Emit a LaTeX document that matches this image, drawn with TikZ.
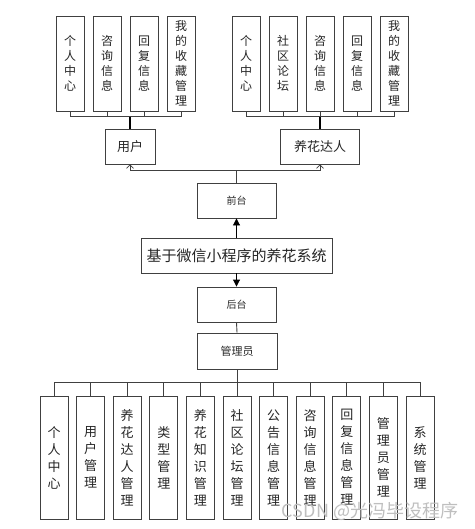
\documentclass[tikz,border=0pt]{standalone}
\usepackage{fontspec}
\setmainfont{Noto Sans CJK SC}
\usetikzlibrary{arrows.meta,calc}
\definecolor{boxc}{HTML}{404040}
\definecolor{txtc}{HTML}{262626}
\begin{document}
\begin{tikzpicture}[x=1pt,y=-1pt,
  box/.style={draw=boxc, line width=0.9pt, inner sep=0pt, align=center, text=txtc},
  vtop/.style={box, minimum width=28pt, minimum height=95pt, font=\fontsize{12}{15}\selectfont},
  vbot/.style={box, minimum width=28pt, minimum height=123pt, font=\fontsize{13}{17}\selectfont},
  hbox/.style={box, minimum height=35pt},
  bus/.style={draw=boxc, line width=0.9pt},
  thick bus/.style={draw=black, line width=1.4pt},
  barb/.style={bus, -{Straight Barb[length=3.5pt, width=7pt, line width=0.7pt]}},
  filled/.style={draw=black, line width=0.9pt, -{Triangle[length=7pt, width=7pt]}}
]
\useasboundingbox (0,0) rectangle (474,529);
\fill[white] (0,0) rectangle (474,529);

% top-left group
\node[vtop] (a1) at (70,63.5)  {个\\人\\中\\心};
\node[vtop] (a2) at (107,63.5) {咨\\询\\信\\息};
\node[vtop] (a3) at (144,63.5) {回\\复\\信\\息};
\node[vtop] (a4) at (181,63.5) {我\\的\\收\\藏\\管\\理};
\node[hbox, minimum width=50pt, font=\fontsize{13}{15}\selectfont] (user) at (130,146.5) {用户};

% top-right group
\node[vtop] (b1) at (246,63.5) {个\\人\\中\\心};
\node[vtop] (b2) at (283,63.5) {社\\区\\论\\坛};
\node[vtop] (b3) at (320,63.5) {咨\\询\\信\\息};
\node[vtop] (b4) at (357,63.5) {回\\复\\信\\息};
\node[vtop] (b5) at (394,63.5) {我\\的\\收\\藏\\管\\理};
\node[hbox, minimum width=79pt, font=\fontsize{13}{15}\selectfont] (expert) at (320,146.5) {养花达人};

% middle
\node[hbox, minimum width=79pt, font=\fontsize{10}{12}\selectfont] (front) at (236.5,200.5) {前台};
\node[hbox, minimum width=191pt, font=\fontsize{15}{18}\selectfont] (title) at (236.5,255.5) {基于微信小程序的养花系统};
\node[hbox, minimum width=79pt, font=\fontsize{10}{12}\selectfont] (back) at (236.5,304.5) {后台};
\node[hbox, minimum width=80pt, minimum height=36pt, font=\fontsize{11}{13}\selectfont] (admin) at (237,351) {管理员};

% bottom group
\foreach \i/\t in {0/{个\\人\\中\\心},1/{用\\户\\管\\理},2/{养\\花\\达\\人\\管\\理},3/{类\\型\\管\\理},4/{养\\花\\知\\识\\管\\理},5/{社\\区\\论\\坛\\管\\理},6/{公\\告\\信\\息\\管\\理},7/{咨\\询\\信\\息\\管\\理},8/{回\\复\\信\\息\\管\\理},9/{管\\理\\员\\管\\理},10/{系\\统\\管\\理}}{
  \node[vbot] (c\i) at ({54+36.6*\i},457.5) {\t};
}

% connectors top-left
\foreach \n in {a1,a2,a3,a4}{
  \draw[bus] (\n.south) |- ($(user.north)+(0,-12)$);
}
\draw[thick bus] (user.north) -- ++(0,-12);
% connectors top-right
\foreach \n in {b1,b2,b3,b4,b5}{
  \draw[bus] (\n.south) |- ($(expert.north)+(0,-12)$);
}
\draw[thick bus] (expert.north) -- ++(0,-12);

% front to user/expert
\coordinate (fj) at ($(front.north)+(0,-12)$);
\draw[bus] (front.north) -- (fj);
\draw[barb] (fj) -| (user.south);
\draw[barb] (fj) -| (expert.south);

% title arrows
\draw[filled] (title.north) -- (front.south);
\draw[filled] (title.south) -- (back.north);
\draw[bus] (back.south) -- (admin.north);

% bottom bus
\coordinate (aj) at ($(admin.south)+(0,13)$);
\draw[bus] (admin.south) -- (aj);
\foreach \i in {0,...,10}{
  \draw[bus] (aj) -| (c\i.north);
}

% watermark
\node[text=gray!50, font=\fontsize{18}{20}\selectfont, anchor=center] (wm) at (370,511) {CSDN @光冯毕设程序};
\end{tikzpicture}
\end{document}
